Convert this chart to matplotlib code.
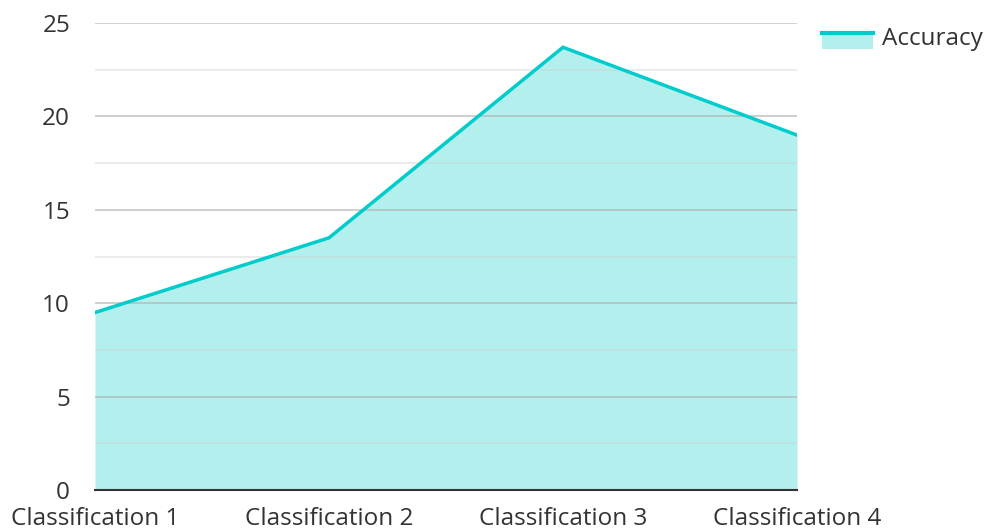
import matplotlib
matplotlib.use("Agg")
import matplotlib.pyplot as plt
from matplotlib.patches import Rectangle
from matplotlib.lines import Line2D
from matplotlib.legend_handler import HandlerBase

categories = ["Classification 1", "Classification 2", "Classification 3", "Classification 4"]
accuracy = [9.5, 13.5, 23.7, 19.0]
y_ticks = [0, 5, 10, 15, 20, 25]
series_name = "Accuracy"

LINE = "#00cccc"
FILL = "#b2efed"
FS = 17.5

plt.rcParams['font.family'] = ['Open Sans', 'DejaVu Sans']

fig = plt.figure(figsize=(9.87, 5.31), dpi=100)
ax = fig.add_axes([95/987, 1-490/531, (797-95)/987, (490-23)/531])

x = list(range(len(categories)))
ax.fill_between(x, 0, accuracy, color=FILL, zorder=1, linewidth=0)
ax.plot(x, accuracy, color=LINE, lw=2.5, zorder=4, solid_joinstyle='miter')

ax.set_xlim(0, len(categories) - 1)
ax.set_ylim(0, 25)
ax.set_yticks(y_ticks)
ax.set_yticks([2.5, 7.5, 12.5, 17.5, 22.5], minor=True)
ax.set_xticks(x)
ax.set_xticklabels(categories)
ax.grid(True, which='major', axis='y', color='#b0b0b0', alpha=0.7, lw=1.2, zorder=2)
ax.grid(True, which='minor', axis='y', color='#d0d0d0', alpha=0.5, lw=1.2, zorder=2)
ax.set_axisbelow(False)
for s in ['top', 'right', 'left']:
    ax.spines[s].set_visible(False)
ax.spines['bottom'].set_color('#333333')
ax.spines['bottom'].set_linewidth(1.5)
ax.spines['bottom'].set_zorder(5)
ax.tick_params(axis='both', which='both', length=0, labelsize=FS, colors='#333333')
ax.tick_params(axis='y', pad=18)
ax.tick_params(axis='x', pad=12)


class AreaHandler(HandlerBase):
    def create_artists(self, legend, orig_handle, xdescent, ydescent, width, height, fontsize, trans):
        off = 3.5
        r = Rectangle((-xdescent, -ydescent - off), width, height, facecolor=FILL, edgecolor='none', transform=trans)
        l = Line2D([-xdescent, -xdescent + width], [-ydescent + height - off] * 2, color=LINE, lw=3, transform=trans)
        return [r, l]

handle = Rectangle((0, 0), 1, 1)
fig.legend([handle], [series_name], handler_map={Rectangle: AreaHandler()},
           loc='upper left', bbox_to_anchor=(812/987, 1-17/531), frameon=False,
           fontsize=FS, handlelength=2.1, handleheight=0.6, handletextpad=0.4,
           labelcolor='#333333', borderaxespad=0, borderpad=0.4)

fig.savefig("out.png", dpi=100)
